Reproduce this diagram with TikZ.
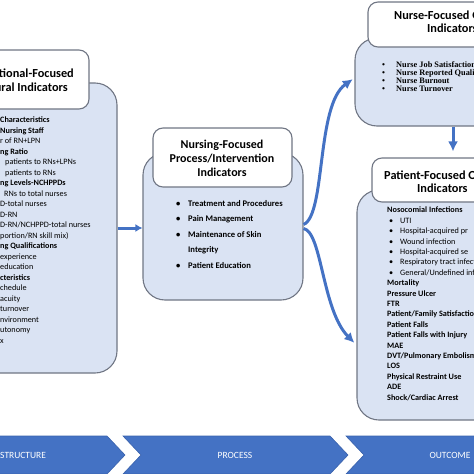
\documentclass[tikz,border=0pt]{standalone}
\usepackage{fontspec}
\setmainfont{Carlito}
\newfontfamily\timesfont{Liberation Serif}
\usetikzlibrary{arrows.meta}
\definecolor{panelblue}{RGB}{218,227,243}
\definecolor{edgegray}{RGB}{112,118,132}
\definecolor{flowblue}{RGB}{68,114,196}
\definecolor{bandedge}{RGB}{58,98,172}

\begin{document}
\begin{tikzpicture}[x=1pt, y=-1pt, >={Latex},
  panel/.style={draw=edgegray, line width=1.1pt, fill=panelblue, rounded corners=22pt, inner sep=0pt},
  header/.style={draw=edgegray, line width=1.1pt, fill=white, rounded corners=10pt, inner sep=0pt},
  title/.style={font=\fontsize{12.3}{14}\selectfont\bfseries, inner sep=0pt},
  items/.style={font=\fontsize{8.2}{10.4}\selectfont, align=left, inner sep=0pt, anchor=north west},
  flow/.style={draw=flowblue, line width=3pt, -{Latex[length=10pt,width=10pt]}},
  band/.style={fill=flowblue, draw=bandedge, line width=0.6pt},
  bandtext/.style={font=\fontsize{9.5}{11}\selectfont, text=white, inner sep=0pt}]
\useasboundingbox (0,0) rectangle (474,474);
\clip (0,0) rectangle (474,474);

% structure
\node[panel, minimum width=177pt, minimum height=290pt] (lpanel) at (28.5,228) {};
\node[header, minimum width=149pt, minimum height=59pt] (lhead) at (14.5,79.5) {};
\node[title, anchor=base east] (ltitleA) at (74,77) {ational-Focused};
\node[title, anchor=base east] (ltitleB) at (68,91) {ural Indicators};
\node[items, font=\fontsize{8.2}{10.5}\selectfont] (litems) at (0,117) {%
\textbf{Characteristics}\\
\textbf{Nursing Staff}\\
r of RN+LPN\\
\textbf{ng Ratio}\\
\hspace*{5pt}patients to RNs+LPNs\\
\hspace*{5pt}patients to RNs\\
\textbf{ng Levels-NCHPPDs}\\
\hspace*{4pt}RNs to total nurses\\
D-total nurses\\
D-RN\\
D-RN/NCHPPD-total nurses\\
portion/RN skill mix)\\
\textbf{ng Qualifications}\\
experience\\
education\\
\textbf{cteristics}\\
chedule\\
acuity\\
turnover\\
nvironment\\
utonomy\\
x};

% process
\node[panel, minimum width=160pt, minimum height=147pt] (mpanel) at (223,226.5) {};
\node[header, minimum width=139pt, minimum height=59pt] (mhead) at (222.5,157.5) {};
\node[title, align=center, font=\fontsize{12}{14}\selectfont\bfseries] (mtitle) at (222,158) {Nursing-Focused\\Process/Intervention\\Indicators};
\node[items, font=\fontsize{8.6}{15.5}\selectfont\bfseries] (mitems) at (176,200) {%
\makebox[12pt][l]{•}Treatment and Procedures\\
\makebox[12pt][l]{•}Pain Management\\
\makebox[12pt][l]{•}Maintenance of Skin\\
\hspace*{12pt}Integrity\\
\makebox[12pt][l]{•}Patient Education};

% outcome, nurse
\node[panel, minimum width=165pt, minimum height=88pt] (tpanel) at (437.5,82) {};
\node[header, minimum width=162pt, minimum height=45pt] (thead) at (449,24.5) {};
\node[title, anchor=base west] (ttitleA) at (394,19) {Nurse-Focused Outcome};
\node[title, anchor=base west] (ttitleB) at (427,32) {Indicators};
\node[items, font=\timesfont\bfseries\fontsize{8.3}{8}\selectfont] (titems) at (382,61.5) {%
\makebox[14pt][l]{•}Nurse Job Satisfaction\\
\makebox[14pt][l]{•}Nurse Reported Quality\\
\makebox[14pt][l]{•}Nurse Burnout\\
\makebox[14pt][l]{•}Nurse Turnover};

% outcome, patient
\node[panel, minimum width=163pt, minimum height=230pt] (bpanel) at (438.5,305) {};
\node[header, minimum width=158pt, minimum height=44pt] (bhead) at (451,180) {};
\node[title, anchor=base west] (btitleA) at (384,179) {Patient-Focused Outcome};
\node[title, anchor=base west] (btitleB) at (417,192) {Indicators};
\node[items] (bitems) at (387,207) {%
\textbf{Nosocomial Infections}\\
\hspace*{2pt}\makebox[11pt][l]{•}UTI\\
\hspace*{2pt}\makebox[11pt][l]{•}Hospital-acquired pr\\
\hspace*{2pt}\makebox[11pt][l]{•}Wound infection\\
\hspace*{2pt}\makebox[11pt][l]{•}Hospital-acquired se\\
\hspace*{2pt}\makebox[11pt][l]{•}Respiratory tract infection\\
\hspace*{2pt}\makebox[11pt][l]{•}General/Undefined infection\\
\textbf{Mortality}\\
\textbf{Pressure Ulcer}\\
\textbf{FTR}\\
\textbf{Patient/Family Satisfaction}\\
\textbf{Patient Falls}\\
\textbf{Patient Falls with Injury}\\
\textbf{MAE}\\
\textbf{DVT/Pulmonary Embolism}\\
\textbf{LOS}\\
\textbf{Physical Restraint Use}\\
\textbf{ADE}\\
\textbf{Shock/Cardiac Arrest}};

% arrows
\coordinate (vx) at (453,0);
\draw[flow, -{Latex[length=7pt,width=8pt]}] (lpanel.east) -- (lpanel.east -| mpanel.west);
\draw[flow, shorten >=2pt] ([yshift=2pt]mpanel.east) .. controls (326,215) and (316,105) .. ([yshift=4pt]tpanel.west);
\draw[flow, shorten >=3pt] ([yshift=-2pt]mpanel.east) .. controls (322,232) and (322,310) .. ([yshift=-40pt]bpanel.west);
\draw[flow, shorten >=6pt] (tpanel.south -| vx) -- (bhead.north -| vx);

% bottom band
\draw[band] (-20,436) -- (107,436) -- (125,455) -- (107,474) -- (-20,474) -- cycle;
\draw[band] (123,436) -- (330,436) -- (348,455) -- (330,474) -- (123,474) -- (141,455) -- cycle;
\draw[band] (346,436) -- (500,436) -- (500,474) -- (346,474) -- (364,455) -- cycle;
\node[bandtext, anchor=west] (sband) at (0,455) {STRUCTURE};
\node[bandtext] (pband) at (235,455) {PROCESS};
\node[bandtext] (oband) at (450,455) {OUTCOME};
\end{tikzpicture}
\end{document}
